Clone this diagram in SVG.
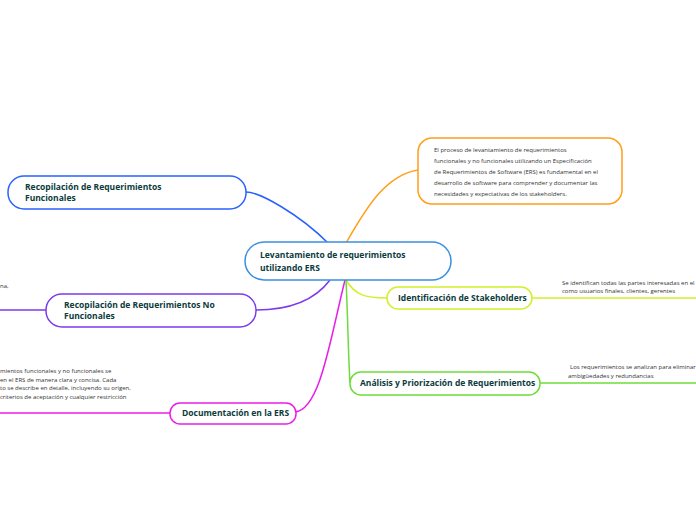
<svg xmlns="http://www.w3.org/2000/svg" width="696" height="520" viewBox="0 0 696 520">
<style>
.n{fill:#fff;stroke-width:1.5}
.t{font-family:"Open Sans","Noto Sans",sans-serif;font-weight:bold;font-size:8.5px;fill:#0b3b3b}
.s{font-family:"Open Sans","Noto Sans",sans-serif;font-size:6px;fill:#333}
.c{fill:none;stroke-width:1.5}
</style>
<rect width="696" height="520" fill="#fff"/>
<g id="connectors">
<path class="c" stroke="#2962ff" d="M328,243 C300,215 260,192 246,192"/>
<path class="c" stroke="#7c3aed" d="M330,280 C315,300 290,310 256,310"/>
<path class="c" stroke="#e91ee9" d="M345,280 C330,340 320,410 295,412"/>
<path class="c" stroke="#ff9f1a" d="M346,243 C365,210 385,175 418,170"/>
<path class="c" stroke="#d4ee2a" d="M346,280 C355,295 365,298 387,298"/>
<path class="c" stroke="#6ddc3a" d="M346,280 C348,320 348,350 350,383"/>
<path class="c" stroke="#d4ee2a" d="M532,298 L696,298" stroke-width="2.5"/>
<path class="c" stroke="#6ddc3a" d="M540,383 L696,383" stroke-width="2.5"/>
<path class="c" stroke="#7c3aed" d="M46,310 L0,310" stroke-width="2.5"/>
<path class="c" stroke="#e91ee9" d="M170,413 L0,413" stroke-width="2.5"/>
</g>
<g id="central"><rect class="n" x="245" y="242" width="206" height="38" rx="19" stroke="#3a8ee0"/>
<text class="t" font-size="10.5" x="260" y="258">Levantamiento de requerimientos</text><text class="t" font-size="10.5" x="260" y="271">utilizando ERS</text></g>
<g id="n1"><rect class="n" x="8" y="176" width="238" height="33" rx="16" stroke="#2962ff"/>
<text class="t" x="25" y="190">Recopilación de Requerimientos</text><text class="t" x="25" y="201">Funcionales</text></g>
<g id="n2"><rect class="n" x="46" y="294" width="210" height="33" rx="16" stroke="#7c3aed"/>
<text class="t" x="64" y="308">Recopilación de Requerimientos No</text><text class="t" x="64" y="319">Funcionales</text></g>
<text class="s" x="0" y="288">na,</text>
<g id="n3"><rect class="n" x="170" y="403" width="126" height="21" rx="10" stroke="#e91ee9"/>
<text class="t" x="182" y="416">Documentación en la ERS</text>
<text class="s" x="0" y="373">mientos funcionales y no funcionales se</text>
<text class="s" x="0" y="382">en el ERS de manera clara y concisa. Cada</text>
<text class="s" x="0" y="390">to se describe en detalle, incluyendo su origen,</text>
<text class="s" x="0" y="399"> criterios de aceptación y cualquier restricción</text></g>
<g id="n4"><rect class="n" x="418" y="138" width="204" height="66" rx="14" stroke="#ff9f1a"/>
<text class="s" x="434" y="152">El proceso de levantamiento de requerimientos</text>
<text class="s" x="434" y="163">funcionales y no funcionales utilizando un Especificación</text>
<text class="s" x="434" y="174">de Requerimientos de Software (ERS) es fundamental en el</text>
<text class="s" x="434" y="185">desarrollo de software para comprender y documentar las</text>
<text class="s" x="434" y="196">necesidades y expectativas de los stakeholders.</text></g>
<g id="n5"><rect class="n" x="387" y="287" width="145" height="22" rx="11" stroke="#d4ee2a"/>
<text class="t" x="398" y="301">Identificación de Stakeholders</text>
<text class="s" x="562" y="285">Se identifican todas las partes interesadas en el</text>
<text class="s" x="562" y="293">como usuarios finales, clientes, gerentes</text></g>
<g id="n6"><rect class="n" x="350" y="372" width="190" height="23" rx="11" stroke="#6ddc3a"/>
<text class="t" x="360" y="386">Análisis y Priorización de Requerimientos</text>
<text class="s" x="570" y="369">Los requerimientos se analizan para eliminar</text>
<text class="s" x="568" y="378">ambigüedades y redundancias</text></g>
</svg>
